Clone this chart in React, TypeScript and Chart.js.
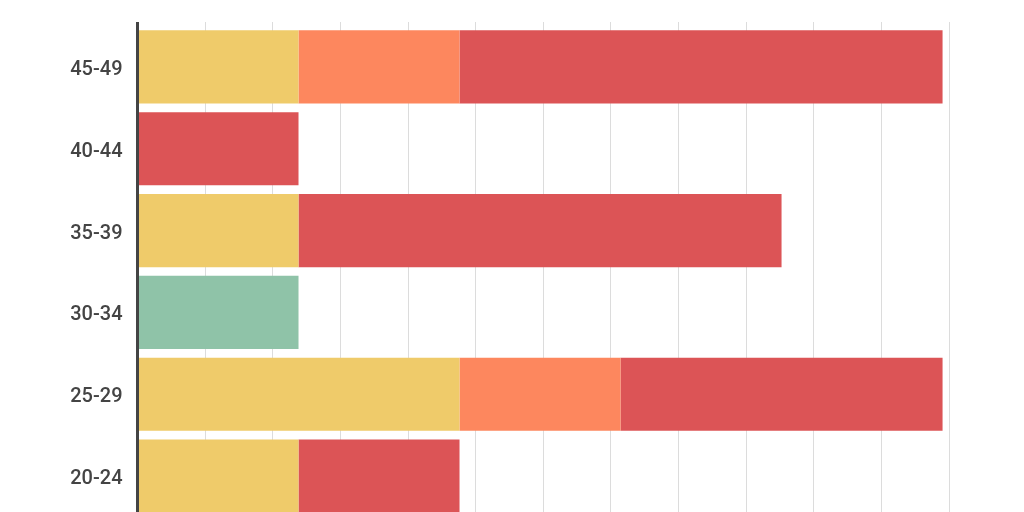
import React, { useEffect, useRef } from "react";
import { Chart, registerables } from "chart.js";

Chart.register(...registerables);

// age groups, top to bottom
const ageGroups = ["45-49", "40-44", "35-39", "30-34", "25-29", "20-24"];

const yellowValues = [1, 0, 1, 0, 2, 1];
const greenValues = [0, 0, 0, 1, 0, 0];
const orangeValues = [1, 0, 0, 0, 1, 0];
const redValues = [3, 1, 3, 0, 2, 1];

const xMax = 5.04;
const xStep = 0.42;

const axisColor = "#444444";
const gridColor = "#dcdcdc";

const App: React.FC = () => {
  const canvasRef = useRef<HTMLCanvasElement | null>(null);

  useEffect(() => {
    if (!canvasRef.current) return;
    const ctx = canvasRef.current.getContext("2d");
    if (!ctx) return;

    Chart.defaults.font.family = "Roboto";

    const chart = new Chart(ctx, {
      type: "bar",
      data: {
        labels: ageGroups,
        datasets: [
          { label: "A", data: yellowValues, backgroundColor: "#EFCB6A" },
          { label: "B", data: greenValues, backgroundColor: "#8FC3A8" },
          { label: "C", data: orangeValues, backgroundColor: "#FD875E" },
          { label: "D", data: redValues, backgroundColor: "#DC5456" },
        ],
      },
      options: {
        indexAxis: "y",
        animation: false,
        responsive: true,
        maintainAspectRatio: false,
        layout: { padding: { top: 14, right: 67, bottom: 11, left: 0 } },
        datasets: {
          bar: { categoryPercentage: 1, barPercentage: 0.895, borderWidth: 0 },
        },
        plugins: {
          legend: { display: false },
          tooltip: { enabled: false },
        },
        scales: {
          x: {
            position: "top",
            stacked: true,
            min: 0,
            max: xMax,
            ticks: { display: false, stepSize: xStep },
            grid: {
              color: gridColor,
              lineWidth: 1,
              drawTicks: true,
              tickLength: 4,
              // the first tick mark continues the y axis line upwards
              tickColor: (c) => (c.index === 0 ? axisColor : gridColor),
              tickWidth: (c) => (c.index === 0 ? 3 : 1),
            },
            border: { display: false },
          },
          y: {
            stacked: true,
            grid: { display: false, drawTicks: false },
            border: { display: true, color: axisColor, width: 3, z: 1 },
            ticks: {
              color: axisColor,
              padding: 15,
              labelOffset: 3,
              font: { size: 20, weight: 500 },
            },
            afterFit: (scale) => {
              scale.width = 129.5;
              scale.paddingTop = 0;
              scale.paddingBottom = 0;
            },
          },
        },
      },
    });

    return () => {
      chart.destroy();
    };
  }, []);

  return (
    <div style={{ position: "relative", width: "100%", height: "520px" }}>
      <canvas ref={canvasRef}></canvas>
    </div>
  );
};

export default App;
